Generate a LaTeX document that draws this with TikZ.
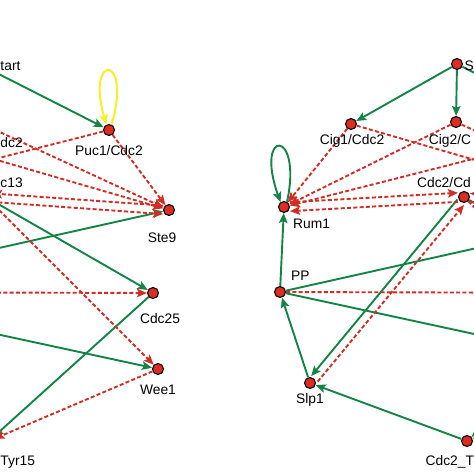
\documentclass[tikz,border=0pt]{standalone}
\usepackage{fontspec}
\setmainfont{Liberation Sans}
\usetikzlibrary{arrows.meta}
\definecolor{actgreen}{RGB}{20,132,70}
\definecolor{inhred}{RGB}{208,45,38}
\definecolor{dotred}{RGB}{222,45,32}
\definecolor{loopyellow}{RGB}{245,240,40}
\tikzset{
  dot/.style={circle, fill=dotred, draw=black, line width=1.1pt, minimum size=11pt, inner sep=0pt},
  tip/.style={-{Stealth[length=10pt,width=8.5pt,inset=2pt]}},
  act/.style={color=actgreen, line width=1.9pt, tip},
  inh/.style={color=inhred, line width=1.9pt, dash pattern=on 4pt off 2.3pt, tip},
  yloop/.style={color=loopyellow, line width=2pt, tip},
  lbl/.style={font=\fontsize{13.8}{16}\selectfont, inner sep=0pt, text=black},
}
\newcommand\drawnet[1]{%
  \node[dot] (#1start) at (457,64) {};
  \node[dot] (#1puc) at (587,130) {};
  \node[dot] (#1cigone) at (351,124) {};
  \node[dot] (#1cigtwo) at (456,122) {};
  \node[dot] (#1rum) at (284,207) {};
  \node[dot] (#1cdc) at (464,197) {};
  \node[dot] (#1ste) at (647,210) {};
  \node[dot] (#1pp) at (280,292) {};
  \node[dot] (#1cdcq) at (631,293) {};
  \node[dot] (#1slp) at (310,383) {};
  \node[dot] (#1wee) at (636,369) {};
  \node[dot] (#1tyr) at (467,441) {};
  % activations
  \draw[act] (#1start) -- (#1puc);
  \draw[act] (#1start) -- (#1cigone);
  \draw[act] (#1start) -- (#1cigtwo);
  \draw[act] (#1pp) -- (#1rum);
  \draw[act] (#1slp) -- (#1pp);
  \draw[act, transform canvas={shift={(-2.7,-2.2)}}] (#1cdc) -- (#1slp);
  \draw[act] (#1tyr) -- (#1slp);
  \draw[act] (#1pp) -- (#1ste);
  \draw[act] (#1pp) -- (#1wee);
  \draw[act] (#1cdc) -- (#1cdcq);
  \draw[act] (#1cdcq) -- (#1tyr);
  \draw[act] (#1rum.60) .. controls (303,128) and (254,128) .. (#1rum.125);
  \draw[yloop] (#1puc.65) .. controls (611,53) and (563,53) .. (#1puc.115);
  % inhibitions
  \draw[inh] (#1puc) -- (#1ste);
  \draw[inh] (#1puc) -- (#1rum);
  \draw[inh] (#1cigone) -- (#1ste);
  \draw[inh] (#1cigone) -- (#1rum);
  \draw[inh] (#1cigtwo) -- (#1ste);
  \draw[inh] (#1cigtwo) -- (#1rum);
  \draw[inh, transform canvas={shift={(0,-4)}}] (#1ste) -- (#1cdc);
  \draw[inh, transform canvas={shift={(0,4.5)}}] (#1cdc) -- (#1ste);
  \draw[inh, transform canvas={shift={(0,-4.5)}}] (#1rum) -- (#1cdc);
  \draw[inh, transform canvas={shift={(0,4.5)}}] (#1cdc) -- (#1rum);
  \draw[inh] (#1cdc) -- (#1wee);
  \draw[inh] (#1pp) -- (#1cdcq);
  \draw[inh] (#1wee) -- (#1tyr);
  \draw[inh, transform canvas={shift={(3.85,3.2)}}] (#1slp) -- (#1cdc);
}
\begin{document}
\begin{tikzpicture}[x=1pt,y=-1pt]
  \fill[white] (0,0) rectangle (474,474);
  \useasboundingbox (0,0) rectangle (474,474);
  \clip (0,0) rectangle (474,474);
  \begin{scope}[shift={(-478,0)}]
    \drawnet{L}
  \end{scope}
  \drawnet{R}
  % labels, as far as the picture shows them
  \node[lbl, anchor=base west] (tlStart) at (0.3,70) {tart};
  \node[lbl, anchor=base] (tlPuc) at (109,155) {Puc1/Cdc2};
  \node[lbl, anchor=base west] (tlCig) at (0.3,147) {dc2};
  \node[lbl, anchor=base west] (tlCdc) at (0.3,187) {c13};
  \node[lbl, anchor=base] (tlSte) at (162,242.5) {Ste9};
  \node[lbl, anchor=base] (tlCdcq) at (160,323) {Cdc25};
  \node[lbl, anchor=base] (tlWee) at (158,394) {Wee1};
  \node[lbl, anchor=base west] (tlTyr) at (0.3,465) {Tyr15};
  \node[lbl, anchor=base west] (trStart) at (464.3,70) {S};
  \node[lbl, anchor=base] (trCigone) at (352,144) {Cig1/Cdc2};
  \node[lbl, anchor=base west] (trCigtwo) at (428.7,144) {Cig2/C};
  \node[lbl, anchor=base west] (trRum) at (293,228) {Rum1};
  \node[lbl, anchor=base west] (trCdc) at (417,187) {Cdc2/Cd};
  \node[lbl, anchor=base west] (trPP) at (291,280) {PP};
  \node[lbl, anchor=base] (trSlp) at (310,403) {Slp1};
  \node[lbl, anchor=base west] (trTyr) at (425.5,465) {Cdc2\_T};
\end{tikzpicture}
\end{document}
